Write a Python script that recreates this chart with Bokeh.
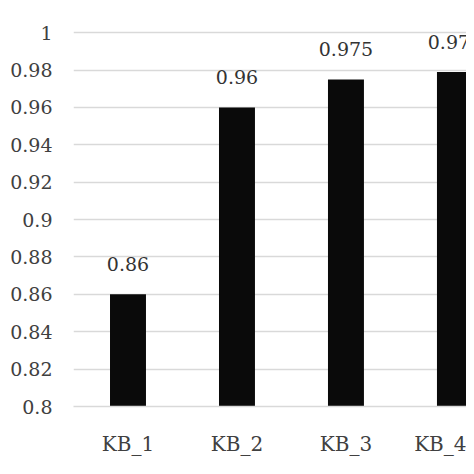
from bokeh.plotting import figure
from bokeh.models import FixedTicker, Range1d
from bokeh.core.properties import value
from bokeh.embed import file_html
from bokeh.resources import INLINE

# data
categories = ["KB_1", "KB_2", "KB_3", "KB_4"]
scores = [0.86, 0.96, 0.975, 0.979]
score_labels = ["0.86", "0.96", "0.975", "0.979"]
y_ticks = [0.8, 0.82, 0.84, 0.86, 0.88, 0.9, 0.92, 0.94, 0.96, 0.98, 1.0]
y_tick_labels = ["0.8", "0.82", "0.84", "0.86", "0.88", "0.9", "0.92", "0.94", "0.96", "0.98", "1"]

xs = list(range(len(categories)))
font = "DejaVu Serif"

p = figure(
    width=466, height=458,
    x_range=Range1d(-0.5, 3.106),
    y_range=Range1d(0.8, 1.006),
    output_backend="svg",
    toolbar_location=None,
    min_border_left=73, min_border_right=0,
    min_border_top=21, min_border_bottom=51,
)
p.outline_line_color = None

p.vbar(x=xs, top=scores, bottom=0.8, width=0.33, fill_color="#0a0a0a", line_color=None)

p.text(x=xs, y=scores, text=score_labels, text_align="center", text_baseline="middle",
       y_offset=-30, text_font=value(font), text_font_size="19px",
       text_color="#333333")

p.yaxis.ticker = FixedTicker(ticks=y_ticks)
p.yaxis.major_label_overrides = {t: l for t, l in zip(y_ticks, y_tick_labels)}
p.yaxis.axis_line_color = None
p.yaxis.major_tick_line_color = None
p.yaxis.minor_tick_line_color = None
p.yaxis.major_label_standoff = 15
p.yaxis.major_label_text_font = font
p.yaxis.major_label_text_font_size = "19px"
p.yaxis.major_label_text_color = "#404040"

p.xaxis.ticker = FixedTicker(ticks=xs)
p.xaxis.major_label_overrides = {i: c for i, c in zip(xs, categories)}
p.xaxis.axis_line_color = "#d9d9d9"
p.xaxis.axis_line_width = 1.5
p.xaxis.major_tick_line_color = None
p.xaxis.minor_tick_line_color = None
p.xaxis.major_label_standoff = 19
p.xaxis.major_label_text_font = font
p.xaxis.major_label_text_font_size = "20px"
p.xaxis.major_label_text_color = "#404040"

p.xgrid.grid_line_color = None
p.ygrid.grid_line_color = "#d9d9d9"
p.ygrid.grid_line_width = 1.5

open("out.html", "w").write(file_html(p, INLINE))
